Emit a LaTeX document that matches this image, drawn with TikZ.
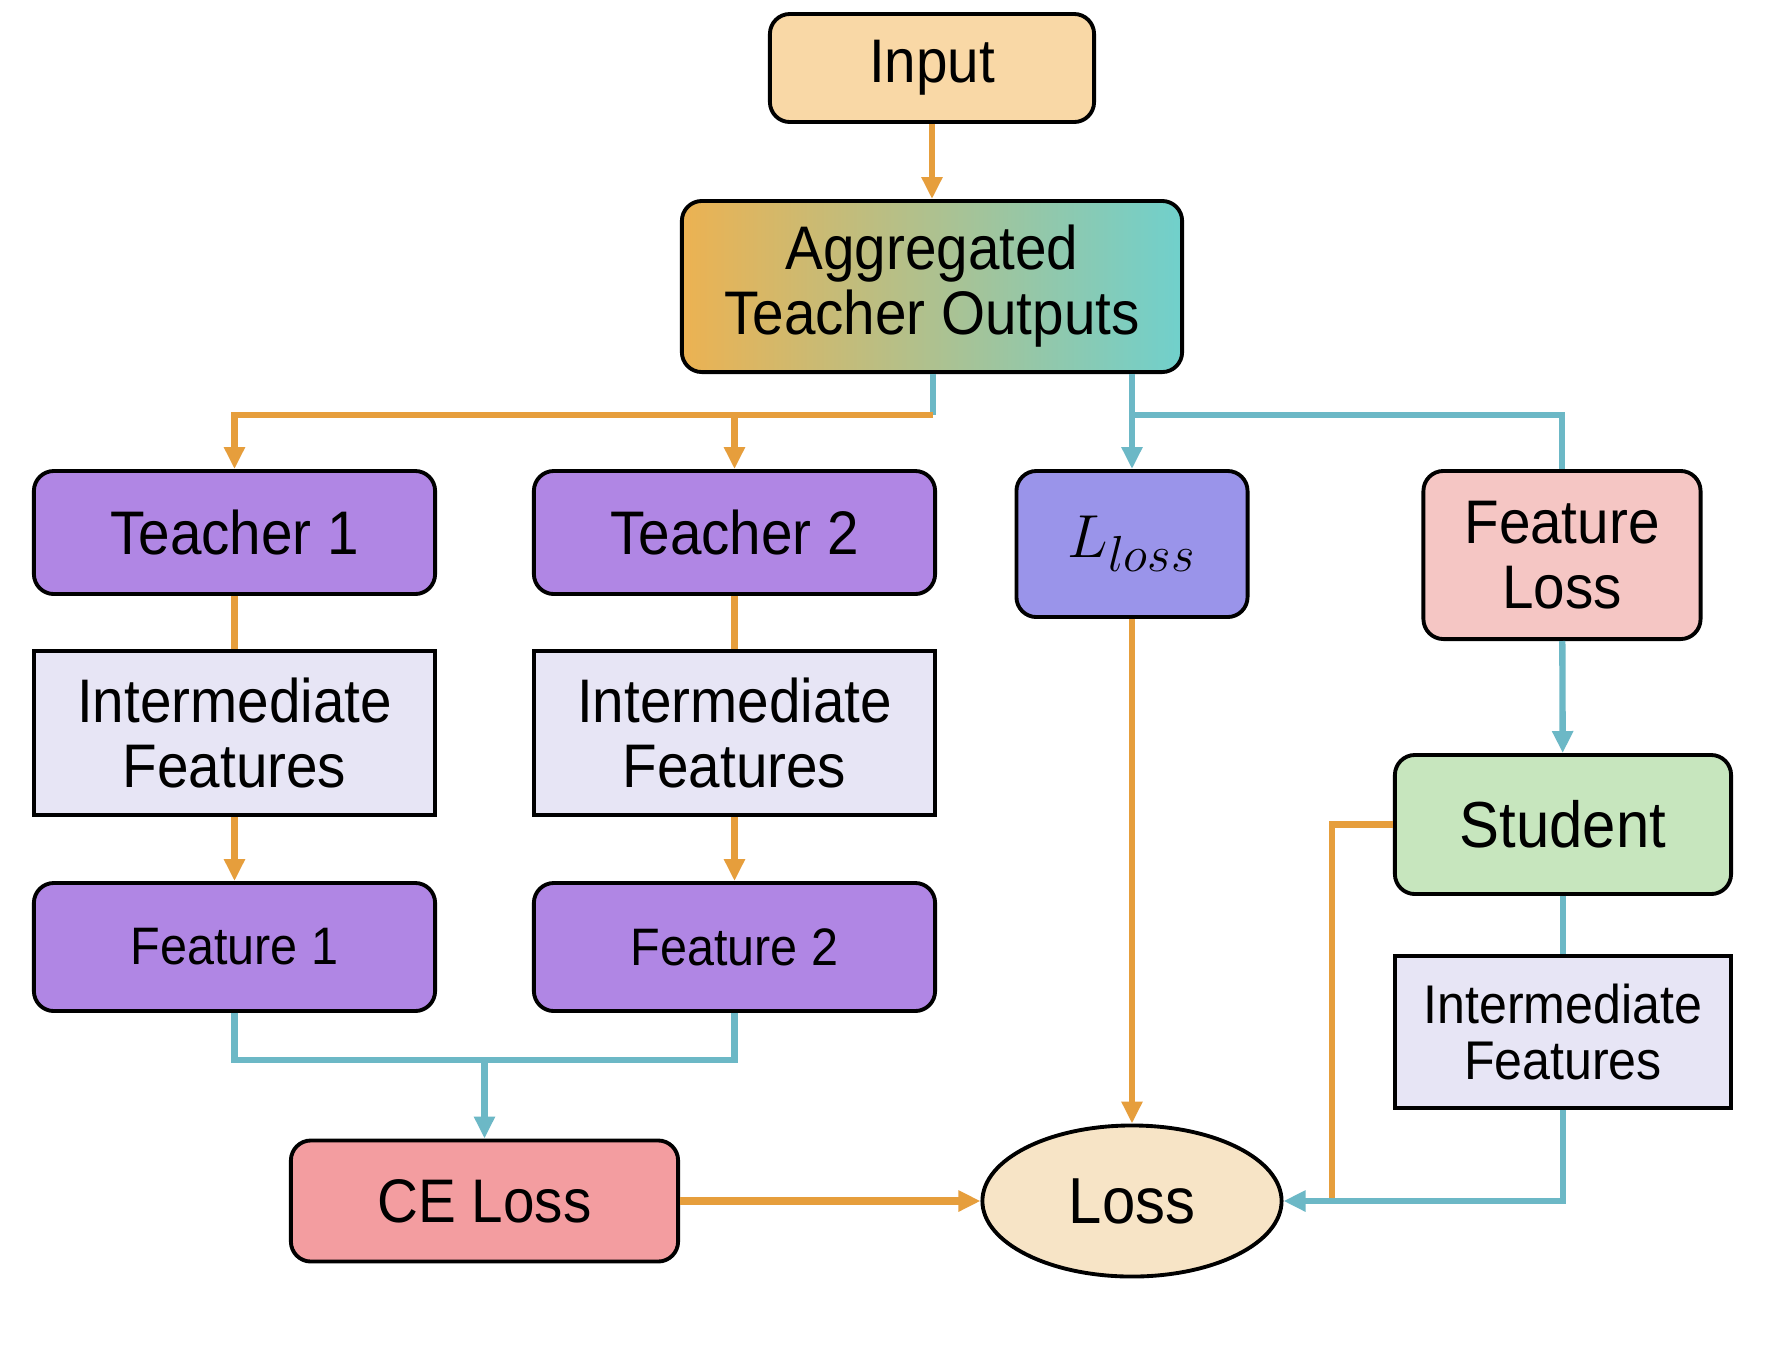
\documentclass[tikz,border=0pt]{standalone}
\usepackage{fontspec}
\setmainfont{Liberation Sans}[FakeStretch=0.92]
\usetikzlibrary{arrows.meta,shapes.geometric}
\definecolor{inpcol}{RGB}{249,216,166}
\definecolor{aggL}{RGB}{236,178,82}
\definecolor{aggM}{RGB}{226,196,128}
\definecolor{aggR}{RGB}{112,208,204}
\definecolor{purp}{RGB}{176,134,228}
\definecolor{ifcol}{RGB}{231,229,245}
\definecolor{llcol}{RGB}{154,148,234}
\definecolor{flcol}{RGB}{245,198,196}
\definecolor{stcol}{RGB}{199,230,190}
\definecolor{cecol}{RGB}{243,157,160}
\definecolor{losscol}{RGB}{247,228,198}
\definecolor{lorange}{RGB}{230,158,60}
\definecolor{lteal}{RGB}{108,184,198}
\newcommand\txtA{\fontsize{17.5}{18.5}\selectfont}
\newcommand\txtB{\fontsize{15.5}{16}\selectfont}
\newcommand\txtC{\fontsize{15}{16}\selectfont}
\newcommand\txtD{\fontsize{18.5}{19.5}\selectfont}
\newcommand\txtM{\fontsize{16}{17}\selectfont}
\tikzset{
  box/.style={draw=black, line width=1.1pt, rounded corners=0.2cm, align=center, inner sep=0pt, font=\txtA},
  sqbox/.style={draw=black, line width=1.1pt, sharp corners, align=center, inner sep=0pt, fill=ifcol, font=\txtA},
  oline/.style={draw=lorange, line width=1.8pt},
  tline/.style={draw=lteal, line width=1.8pt},
  witharrow/.style={-{Triangle[width=0.2cm,length=0.22cm]}}
}
\begin{document}
\begin{tikzpicture}[x=0.01cm,y=-0.01cm]
\useasboundingbox[fill=white] (0,0) rectangle (1768,1356);

\node[box, fill=inpcol, minimum width=3.24cm, minimum height=1.08cm] (inp) at (932,68) {Input};
\node[box, left color=aggL, middle color=aggM, right color=aggR, minimum width=5.0cm, minimum height=1.71cm] (agg) at (932,286.5) {Aggregated\\Teacher Outputs};

\node[box, fill=purp, minimum width=4.01cm, minimum height=1.23cm] (t1) at (234.5,532.5) {Teacher 1};
\node[box, fill=purp, minimum width=4.01cm, minimum height=1.23cm] (t2) at (734.5,532.5) {Teacher 2};
\node[box, fill=llcol, minimum width=2.31cm, minimum height=1.46cm, font=\txtM] (ll) at (1132,544) {$L_{\mbox{\fontsize{13.5}{14}\selectfont$loss$}}$};
\node[box, fill=flcol, minimum width=2.77cm, minimum height=1.68cm] (fl) at (1562,555) {Feature\\Loss};

\node[sqbox, minimum width=4.01cm, minimum height=1.64cm] (if1) at (234.5,733) {Intermediate\\Features};
\node[sqbox, minimum width=4.01cm, minimum height=1.64cm] (if2) at (734.5,733) {Intermediate\\Features};

\node[box, fill=purp, minimum width=4.01cm, minimum height=1.28cm, font=\txtC] (f1) at (234.5,947) {Feature 1};
\node[box, fill=purp, minimum width=4.01cm, minimum height=1.28cm, font=\txtC] (f2) at (734.5,947) {Feature 2};

\node[box, fill=stcol, minimum width=3.36cm, minimum height=1.39cm, font=\txtD] (st) at (1563,824.5) {Student};
\node[sqbox, minimum width=3.36cm, minimum height=1.52cm, font=\txtB] (ifs) at (1563,1032) {Intermediate\\Features};

\node[box, fill=cecol, minimum width=3.87cm, minimum height=1.21cm] (ce) at (484.5,1201) {CE Loss};
\node[ellipse, draw=black, line width=1.1pt, fill=losscol, minimum width=2.99cm, minimum height=1.51cm, inner sep=0pt, font=\txtD] (loss) at (1132,1201) {Loss};

\coordinate (jL) at (933,415);
\coordinate (jR) at (1132,415);
\coordinate (jB) at (484.5,1060);
\coordinate (jS) at (1332,1201);

\draw[oline, witharrow] (inp) -- (agg);
\draw[tline] (agg.south -| jL) -- (jL);
\draw[oline, witharrow] (jL) -| (t1.north);
\draw[oline, witharrow] (t2.north |- jL) -- (t2.north);
\draw[tline, witharrow] (agg.south -| ll.north) -- (ll.north);
\draw[tline] (jR) -| (fl.north);

\draw[oline] (t1) -- (if1);
\draw[oline] (t2) -- (if2);
\draw[oline, witharrow] (if1) -- (f1);
\draw[oline, witharrow] (if2) -- (f2);

\draw[tline] (f1.south) |- (f2.south |- jB) -- (f2.south);
\draw[tline, witharrow] (jB) -- (ce.north);
\draw[oline, line width=2.4pt, witharrow] (ce) -- (loss);
\draw[oline, witharrow] (ll) -- (loss);

\draw[tline, witharrow] (fl) -- (st);
\draw[tline] (st) -- (ifs);
\draw[oline] (st.west) -| (jS);
\draw[tline, witharrow] (ifs.south) |- (loss.east);
\end{tikzpicture}
\end{document}
